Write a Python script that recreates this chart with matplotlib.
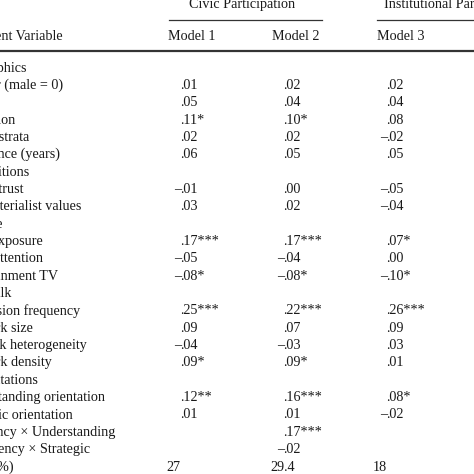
import matplotlib
matplotlib.use("Agg")
import matplotlib.pyplot as plt

labels = ["Demographics", "Gender (male = 0)", "Age", "Education", "Social strata",
          "Residence (years)", "Predispositions", "Political trust", "Postmaterialist values",
          "Media use", "News exposure", "News attention", "Entertainment TV", "Political talk",
          "Discussion frequency", "Network size", "Network heterogeneity", "Network density",
          "Talk orientations", "Understanding orientation", "Strategic orientation",
          "Frequency × Understanding", "Frequency × Strategic", "R² (%)"]
model1 = ["", ".01", ".05", ".11*", ".02", ".06", "", "-.01", ".03", "", ".17***", "-.05", "-.08*", "",
          ".25***", ".09", "-.04", ".09*", "", ".12**", ".01", "", "", "27"]
model2 = ["", ".02", ".04", ".10*", ".02", ".05", "", ".00", ".02", "", ".17***", "-.04", "-.08*", "",
          ".22***", ".07", "-.03", ".09*", "", ".16***", ".01", ".17***", "-.02", "29.4"]
model3 = ["", ".02", ".04", ".08", "-.02", ".05", "", "-.05", "-.04", "", ".07*", ".00", "-.10*", "",
          ".26***", ".09", ".03", ".01", "", ".08*", "-.02", "", "", "18"]
models = ["Model 1", "Model 2", "Model 3"]
groups = ["Civic Participation", "Institutional Participation"]

W = H = 474
fig = plt.figure(figsize=(4.74, 4.74), dpi=100)
ax = fig.add_axes([0, 0, 1, 1])
ax.set_xlim(0, W)
ax.set_ylim(H, 0)
ax.axis("off")
font = dict(family="Liberation Serif", fontsize=10.2, color="#1a1a1a", va="center")

ax.text(242, 4, groups[0], ha="center", **font)
ax.text(384, 4, groups[1], ha="left", **font)
ax.plot([169, 322], [20, 20], color="#333", lw=0.9)
ax.plot([377, 474], [20, 20], color="#333", lw=0.9)
ax.text(63, 36, "Dependent Variable", ha="right", **font)
for m, xc in zip(models, [192, 296, 401]):
    ax.text(xc, 36, m, ha="center", **font)
ax.plot([0, 474], [51, 51], color="#333", lw=1.6)

# visible right ends of the (left-clipped) row labels in the reference
ends = [27, 63, 0, 16, 29, 60, 30, 23, 81, 3, 43, 43, 58, 11, 80, 33, 87, 52, 38, 105, 73, 115, 90, 14]

y0, dy = 68, 17.35
decs = [181, 284, 387]
for i, lab in enumerate(labels):
    y = y0 + i * dy
    ax.text(ends[i], y, lab, ha="right", **font)
    if i == len(labels) - 1:
        for v, x in zip([model1[i], model2[i], model3[i]], [166, 270, 373]):
            ax.text(x, y, v, ha="left", **font)
        continue
    for col, xd in zip([model1, model2, model3], decs):
        v = col[i]
        if not v:
            continue
        if v.startswith("-"):
            ax.text(xd, y, "–", ha="right", **font)
            v = v[1:]
        ax.text(xd - 1, y, v, ha="left", **font)

fig.savefig("out.png", dpi=100)
